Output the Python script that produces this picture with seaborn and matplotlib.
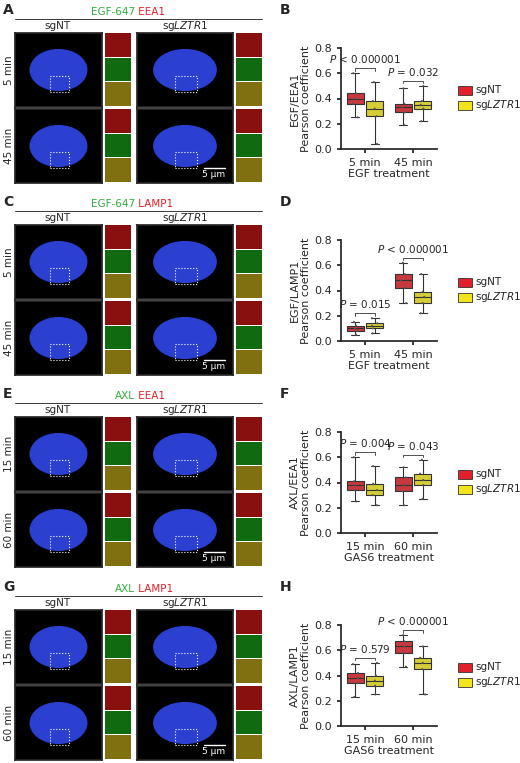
import matplotlib
matplotlib.use("Agg")
import matplotlib.pyplot as plt
import seaborn as sns
import pandas as pd
from matplotlib.patches import Ellipse, Rectangle

sns.set_theme(style="ticks")
plt.rcParams['font.family'] = ['DejaVu Sans']

conditions = ["sgNT", "sgLZTR1"]
# five-number summaries (min, q1, median, q3, max)
B_times = ["5 min", "45 min"]
B_vals = {("5 min","sgNT"):[0.25,0.36,0.40,0.44,0.60],("5 min","sgLZTR1"):[0.04,0.26,0.32,0.38,0.53],
          ("45 min","sgNT"):[0.19,0.29,0.33,0.36,0.48],("45 min","sgLZTR1"):[0.22,0.32,0.35,0.38,0.50]}
D_times = ["5 min", "45 min"]
D_vals = {("5 min","sgNT"):[0.05,0.08,0.10,0.12,0.15],("5 min","sgLZTR1"):[0.06,0.10,0.12,0.14,0.18],
          ("45 min","sgNT"):[0.30,0.42,0.48,0.53,0.62],("45 min","sgLZTR1"):[0.22,0.30,0.35,0.39,0.53]}
F_times = ["15 min", "60 min"]
F_vals = {("15 min","sgNT"):[0.25,0.34,0.38,0.41,0.60],("15 min","sgLZTR1"):[0.22,0.30,0.34,0.39,0.53],
          ("60 min","sgNT"):[0.22,0.33,0.38,0.44,0.52],("60 min","sgLZTR1"):[0.27,0.38,0.42,0.47,0.58]}
H_times = ["15 min", "60 min"]
H_vals = {("15 min","sgNT"):[0.23,0.34,0.38,0.42,0.49],("15 min","sgLZTR1"):[0.25,0.32,0.36,0.40,0.50],
          ("60 min","sgNT"):[0.47,0.58,0.63,0.67,0.72],("60 min","sgLZTR1"):[0.25,0.45,0.50,0.54,0.63]}
pvals = {"B":["< 0.000001","= 0.032"],"D":["= 0.015","< 0.000001"],
         "F":["= 0.004","= 0.043"],"H":["= 0.579","< 0.000001"]}
ylabels = {"B":"EGF/EEA1\nPearson coefficient","D":"EGF/LAMP1\nPearson coefficient",
           "F":"AXL/EEA1\nPearson coefficient","H":"AXL/LAMP1\nPearson coefficient"}
xlabels = {"B":"EGF treatment","D":"EGF treatment","F":"GAS6 treatment","H":"GAS6 treatment"}
img_titles = {"A":("EGF-647"," EEA1"),"C":("EGF-647"," LAMP1"),"E":("AXL"," EEA1"),"G":("AXL"," LAMP1")}
colors = {"sgNT":"#e0202a","sgLZTR1":"#f2e51b"}

W,H = 520,763
fig = plt.figure(figsize=(5.2,7.63), dpi=100)
def ax_px(x0,y0,x1,y1):
    return fig.add_axes([x0/W, 1-y1/H, (x1-x0)/W, (y1-y0)/H])

panels = [("B",B_times,B_vals,48,"A"),("D",D_times,D_vals,240,"C"),
          ("F",F_times,F_vals,432,"E"),("H",H_times,H_vals,625,"G")]
for key,times,vals,top,ikey in panels:
    rows=[]
    for (t,c),v in vals.items():
        for x in v: rows.append({"time":t,"cond":c,"val":x})
    df = pd.DataFrame(rows)
    ax = ax_px(341,top,437,top+101)
    sns.boxplot(data=df,x="time",y="val",hue="cond",order=times,hue_order=conditions,
                palette=colors,whis=(0,100),width=0.8,gap=0.15,linewidth=0.8,
                linecolor="#333333",ax=ax,legend=False)
    sns.stripplot(data=df,x="time",y="val",hue="cond",order=times,hue_order=conditions,
                  dodge=True,palette=["#555555","#555555"],size=1.5,jitter=0.12,ax=ax,legend=False)
    ax.set_ylim(0,0.8); ax.set_yticks([0,0.2,0.4,0.6,0.8])
    ax.set_yticklabels(["0.0","0.2","0.4","0.6","0.8"],fontsize=8)
    ax.tick_params(axis='x',labelsize=8,length=3); ax.tick_params(axis='y',length=3)
    ax.set_xlabel(xlabels[key],fontsize=8,labelpad=1)
    ax.set_ylabel(ylabels[key],fontsize=8,labelpad=2)
    sns.despine(ax=ax)
    ax.set_xlim(-0.5,1.5)
    for i,t in enumerate(times):
        top_v = max(vals[(t,"sgNT")][4], vals[(t,"sgLZTR1")][4]) + 0.04
        ax.plot([i-0.2,i-0.2,i+0.2,i+0.2],[top_v-0.02,top_v,top_v,top_v-0.02],color="#333",lw=0.6,clip_on=False)
        ax.text(i,top_v+0.025,"$\\it{P}$ "+pvals[key][i],ha="center",va="bottom",fontsize=7.5)
    fig.text(280/W,1-(top-38)/H,key,fontsize=10,fontweight="bold",va="center")
    for j,c in enumerate(conditions):
        y = top+42+j*15
        fig.patches.append(Rectangle((458/W,1-(y+5)/H),14/W,9/H,transform=fig.transFigure,
                                     facecolor=colors[c],edgecolor="#333",lw=0.6))
        lab = "sgNT" if c=="sgNT" else "sg$\\it{LZTR1}$"
        fig.text(475/W,1-y/H,lab,fontsize=7.5,va="center")
    itop = top-33
    fig.text(3/W,1-(itop-5)/H,ikey,fontsize=10,fontweight="bold",va="center")
    t1,t2 = img_titles[ikey]
    fig.text(135/W,1-(itop-3)/H,t1,color="#2fae3a",fontsize=7.5,ha="right",va="center")
    fig.text(135/W,1-(itop-3)/H,t2,color="#e0202a",fontsize=7.5,ha="left",va="center")
    fig.lines.append(plt.Line2D([15/W,262/W],[1-(itop+4)/H]*2,transform=fig.transFigure,color="k",lw=0.6))
    fig.text(57/W,1-(itop+11)/H,"sgNT",fontsize=7.5,ha="center",va="center")
    fig.text(185/W,1-(itop+11)/H,"sg$\\it{LZTR1}$",fontsize=7.5,ha="center",va="center")
    rlab = times
    for r in range(2):
        y0 = itop+18+r*76; y1 = y0+74
        fig.text(9/W,1-(y0+37)/H,rlab[r],rotation=90,fontsize=7.5,ha="center",va="center")
        for x0,x1,sx0,sx1 in [(15,102,105,131),(137,233,236,262)]:
            a = ax_px(x0,y0,x1,y1); a.set_facecolor("black")
            a.add_patch(Ellipse((0.5,0.5),0.65,0.55,color="#2b3fd0"))
            a.add_patch(Rectangle((0.4,0.2),0.22,0.22,fill=False,ec="white",ls=":",lw=0.8))
            a.set_xlim(0,1); a.set_ylim(0,1); a.set_xticks([]); a.set_yticks([])
            for s in range(3):
                b = ax_px(sx0,y0+s*24.7,sx1,y0+(s+1)*24.7-1)
                b.set_facecolor(["#8a1010","#106a10","#807010"][s]); b.set_xticks([]); b.set_yticks([])
                for sp in b.spines.values(): sp.set_visible(False)
            if x0 == 137 and r == 1:
                a.text(0.8,0.06,"5 µm",color="white",fontsize=6.5,ha="center",va="bottom",transform=a.transAxes)
                a.plot([0.7,0.92],[0.2,0.2],color="white",lw=1,transform=a.transAxes)
fig.savefig("out.png",dpi=100)
